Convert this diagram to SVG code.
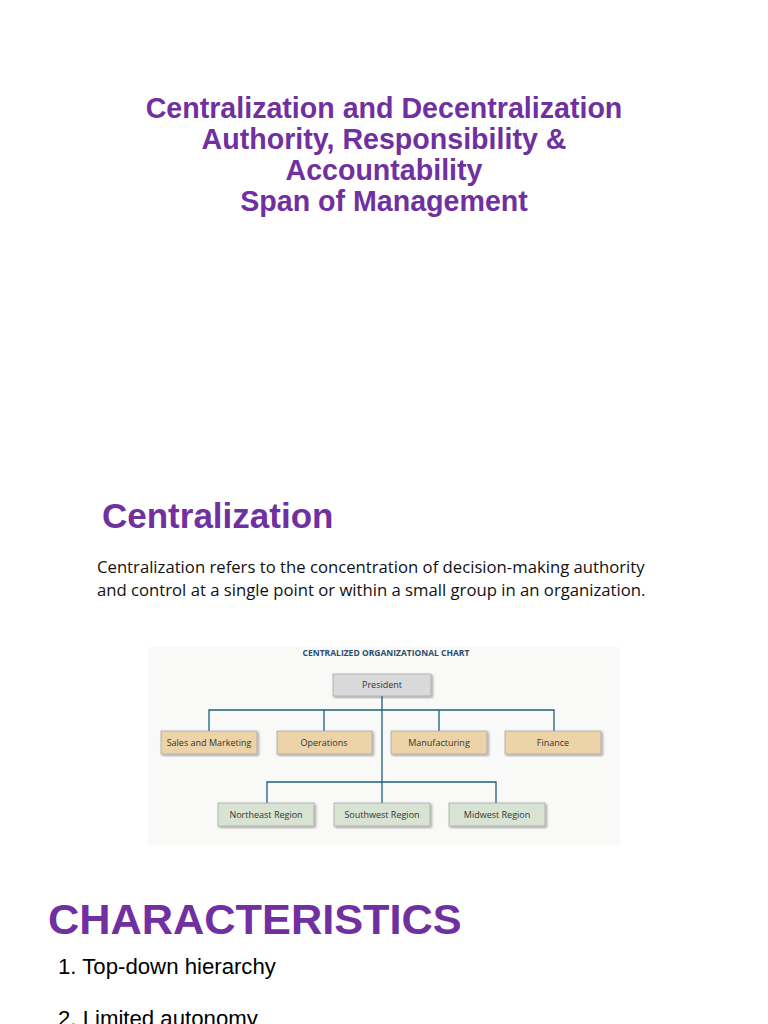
<svg xmlns="http://www.w3.org/2000/svg" width="768" height="1024" viewBox="0 0 768 1024">
<style>
.t{font-family:"Liberation Sans",Arial,sans-serif;font-weight:bold;fill:#7030a0}
.b{font-family:"Open Sans","Noto Sans",sans-serif;font-size:16.7px;fill:#111}
.n{font-family:"Open Sans","Noto Sans",sans-serif;font-size:9px;fill:#333;text-anchor:middle}
.box{stroke:#a9a9a9;stroke-width:0.8}
.ln{stroke:#1f5f7a;stroke-width:1.3;fill:none}
</style>
<defs><filter id="sh"><feDropShadow dx="1.5" dy="1.5" stdDeviation="1" flood-opacity="0.35"/></filter></defs>
<rect width="768" height="1024" fill="#fff"/>
<g class="t" font-size="28.6" text-anchor="middle">
<text x="384" y="118">Centralization and Decentralization</text>
<text x="384" y="149">Authority, Responsibility &amp;</text>
<text x="384" y="180">Accountability</text>
<text x="384" y="211">Span of Management</text>
</g>
<text class="t" x="102" y="528" font-size="35">Centralization</text>
<text class="b" x="97" y="573">Centralization refers to the concentration of decision-making authority</text>
<text class="b" x="97" y="596">and control at a single point or within a small group in an organization.</text>
<rect x="148" y="647" width="472" height="198" fill="#f9f9f8"/>
<text x="386" y="656" font-family="Open Sans,Noto Sans,sans-serif" font-size="8.5" font-weight="bold" fill="#2a4f6e" text-anchor="middle">CENTRALIZED ORGANIZATIONAL CHART</text>
<g id="connectors">
<path class="ln" d="M382 696V803M209 731V710H554V731M324 710V731M439 710V731M267 803V782H496V803"/>
</g>
<g id="president"><rect class="box" x="333" y="674" width="98" height="22" fill="#d9d9db" filter="url(#sh)"/><text class="n" x="382" y="688">President</text></g>
<g id="sales"><rect class="box" x="161" y="731" width="96" height="23" fill="#ecd3a8" filter="url(#sh)"/><text class="n" x="209" y="746">Sales and Marketing</text></g>
<g id="operations"><rect class="box" x="277" y="731" width="95" height="23" fill="#ecd3a8" filter="url(#sh)"/><text class="n" x="324" y="746">Operations</text></g>
<g id="manufacturing"><rect class="box" x="391" y="731" width="96" height="23" fill="#ecd3a8" filter="url(#sh)"/><text class="n" x="439" y="746">Manufacturing</text></g>
<g id="finance"><rect class="box" x="505" y="731" width="96" height="23" fill="#ecd3a8" filter="url(#sh)"/><text class="n" x="553" y="746">Finance</text></g>
<g id="northeast"><rect class="box" x="218" y="803" width="96" height="23" fill="#d8e3d3" filter="url(#sh)"/><text class="n" x="266" y="818">Northeast Region</text></g>
<g id="southwest"><rect class="box" x="334" y="803" width="96" height="23" fill="#d8e3d3" filter="url(#sh)"/><text class="n" x="382" y="818">Southwest Region</text></g>
<g id="midwest"><rect class="box" x="449" y="803" width="96" height="23" fill="#d8e3d3" filter="url(#sh)"/><text class="n" x="497" y="818">Midwest Region</text></g>
<text class="t" x="48" y="934" font-size="43.3">CHARACTERISTICS</text>
<g font-family="Liberation Sans,Arial,sans-serif" font-size="22.2" fill="#000">
<text x="58" y="974">1. Top-down hierarchy</text>
<text x="58" y="1026">2. Limited autonomy</text>
</g>
</svg>
